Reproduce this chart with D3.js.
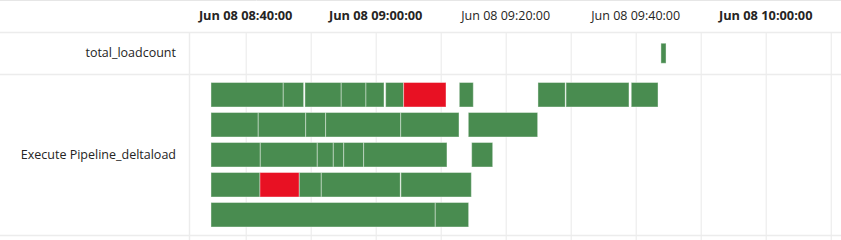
<!DOCTYPE html>
<html>
<head>
<meta charset="utf-8">
<script src="https://cdn.jsdelivr.net/npm/d3@7"></script>
<style>
  body { margin: 0; background: #fff; }
  text { font-family: "Open Sans", sans-serif; fill: #252423; }
</style>
</head>
<body>
<div id="chart"></div>
<script>
// rows of the timeline, and how many lanes each one has
var categories = ["total_loadcount", "Execute Pipeline_deltaload"];
var laneCounts = [1, 5];

// runs per lane: [start, end, status]
var loadcountLane1 = [["09:43:53", "09:44:40", "ok"]];

var deltaloadLane1 = [
	["08:34:40", "08:45:47", "ok"], ["08:45:47", "08:48:55", "ok"],
	["08:49:07", "08:54:42", "ok"], ["08:54:42", "08:58:30", "ok"],
	["08:58:30", "09:01:17", "ok"], ["09:01:32", "09:04:18", "ok"],
	["09:04:18", "09:10:49", "failed"], ["09:12:52", "09:15:01", "ok"],
	["09:24:58", "09:29:10", "ok"], ["09:29:17", "09:38:58", "ok"],
	["09:39:19", "09:43:26", "ok"]
];
var deltaloadLane2 = [
	["08:34:40", "08:41:56", "ok"], ["08:41:56", "08:49:14", "ok"],
	["08:49:14", "08:52:18", "ok"], ["08:52:18", "09:03:51", "ok"],
	["09:03:51", "09:12:49", "ok"], ["09:14:15", "09:24:55", "ok"]
];
var deltaloadLane3 = [
	["08:34:40", "08:42:15", "ok"], ["08:42:15", "08:51:01", "ok"],
	["08:51:01", "08:53:29", "ok"], ["08:53:29", "08:55:05", "ok"],
	["08:55:05", "08:58:09", "ok"], ["08:58:09", "09:10:58", "ok"],
	["09:14:46", "09:18:00", "ok"]
];
var deltaloadLane4 = [
	["08:34:40", "08:42:12", "ok"], ["08:42:12", "08:48:15", "failed"],
	["08:48:15", "08:51:38", "ok"], ["08:51:38", "09:03:47", "ok"],
	["09:03:53", "09:14:43", "ok"]
];
var deltaloadLane5 = [
	["08:34:40", "09:09:10", "ok"], ["09:09:10", "09:14:18", "ok"]
];

var lanes = [
	[loadcountLane1],
	[deltaloadLane1, deltaloadLane2, deltaloadLane3, deltaloadLane4, deltaloadLane5]
];

var domainStart = "08:31:17", domainEnd = "10:11:35";
var statusColor = { ok: "#498c50", failed: "#e81123" };

var width = 841, height = 240,
	headerH = 32, labelW = 189,
	laneStep = 30, laneGap = 5.5, rowPad = 8.5;

var parse = d3.timeParse("%Y-%m-%d %H:%M:%S");
function t(s) { return parse("2023-06-08 " + s); }

var x = d3.scaleTime()
	.domain([t(domainStart), t(domainEnd)])
	.range([labelW, width]);

var svg = d3.select("#chart").append("svg")
	.attr("width", width)
	.attr("height", height);

// row tops
var rowTop = [], y0 = headerH;
laneCounts.forEach(function(n) {
	rowTop.push(y0);
	y0 += 2 * rowPad + n * laneStep - laneGap;
});
var bottom = y0;

// gridlines every 10 minutes
svg.append("g")
	.attr("class", "grid")
	.attr("transform", "translate(0," + headerH + ")")
	.call(d3.axisBottom(x).ticks(d3.timeMinute.every(10)).tickSize(height - headerH).tickFormat(""))
	.call(function(g) {
		g.select(".domain").remove();
		g.selectAll("line").attr("stroke", "#e9e9e9");
	});

// separators
svg.append("line").attr("x1", 0).attr("x2", width).attr("y1", 0.5).attr("y2", 0.5).attr("stroke", "#e6e6e6");
var seps = [headerH].concat(rowTop.slice(1)).concat([bottom]);
svg.selectAll("line.sep").data(seps).enter().append("line")
	.attr("class", "sep")
	.attr("x1", 0).attr("x2", width)
	.attr("y1", function(d) { return Math.round(d) + 0.5; })
	.attr("y2", function(d) { return Math.round(d) + 0.5; })
	.attr("stroke", "#ececec").attr("stroke-width", 1.5);
svg.append("line")
	.attr("x1", labelW + 0.5).attr("x2", labelW + 0.5)
	.attr("y1", headerH).attr("y2", height)
	.attr("stroke", "#ececec").attr("stroke-width", 1.5);

// header labels every 20 minutes
var labelTicks = x.ticks(d3.timeMinute.every(20));
var fmt = d3.timeFormat("%b %d %H:%M:%S");
svg.append("g").selectAll("text")
	.data(labelTicks)
	.enter().append("text")
	.attr("x", function(d) { return x(d); })
	.attr("y", 16)
	.attr("dy", "0.35em")
	.attr("text-anchor", "middle")
	.style("font-size", function(d, i) { return (i == 0 || d.getMinutes() == 0) ? "12.8px" : "12.5px"; })
	.style("font-weight", function(d, i) { return (i == 0 || d.getMinutes() == 0) ? "bold" : "normal"; })
	.text(function(d) { return fmt(d); });

// row labels
svg.append("g").selectAll("text")
	.data(categories)
	.enter().append("text")
	.attr("x", 176)
	.attr("y", function(d, i) {
		var h = 2 * rowPad + laneCounts[i] * laneStep - laneGap;
		return rowTop[i] + h / 2;
	})
	.attr("dy", "0.35em")
	.attr("text-anchor", "end")
	.style("font-size", "12.5px")
	.text(function(d) { return d; });

// bars
lanes.forEach(function(rowLanes, r) {
	var y = d3.scaleBand()
		.domain(d3.range(rowLanes.length))
		.range([rowTop[r] + rowPad + 0.5, rowTop[r] + rowPad + 0.5 + rowLanes.length * laneStep - laneGap])
		.paddingInner(laneGap / laneStep);

	rowLanes.forEach(function(runs, l) {
		svg.append("g").selectAll("rect")
			.data(runs)
			.enter().append("rect")
			.attr("x", function(d) { return x(t(d[0])); })
			.attr("y", y(l))
			.attr("width", function(d) { return x(t(d[1])) - x(t(d[0])); })
			.attr("height", y.bandwidth())
			.attr("fill", function(d) { return statusColor[d[2]]; })
			.attr("stroke", "rgba(255,255,255,0.4)")
			.attr("stroke-width", 1);
	});
});
</script>
</body>
</html>
